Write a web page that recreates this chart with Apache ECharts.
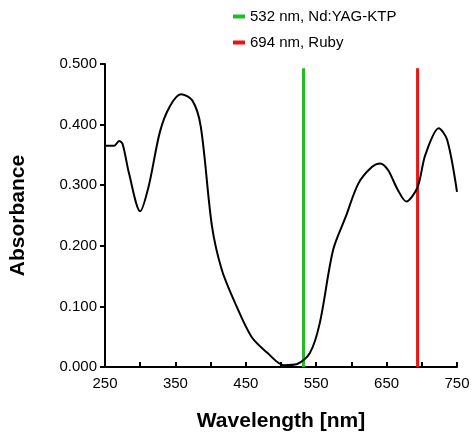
<!DOCTYPE html>
<html style="height: 100%">
<head>
    <meta charset="utf-8">
    <script src="https://cdn.jsdelivr.net/npm/echarts/dist/echarts.min.js"></script>
</head>
<body style="height: 100%; margin: 0; background: #fff">
    <div id="main" style="width: 474px; height: 441px"></div>
    <script type="text/javascript">
        var wavelength = [250, 263, 270, 275, 284, 300, 312, 328, 342, 358, 374, 386, 402, 416, 435, 458, 481, 504, 523, 541, 555, 574, 592, 610, 629, 641, 652, 666, 678, 694, 705, 724, 736, 750];
        var absorbance = [0.365, 0.365, 0.373, 0.368, 0.320, 0.257, 0.298, 0.388, 0.430, 0.450, 0.440, 0.397, 0.232, 0.160, 0.105, 0.050, 0.023, 0.003, 0.005, 0.023, 0.072, 0.193, 0.248, 0.303, 0.330, 0.336, 0.325, 0.292, 0.273, 0.297, 0.350, 0.394, 0.375, 0.289];
        var laserNames = ['532 nm, Nd:YAG-KTP', '694 nm, Ruby'];
        var laserLines = [532, 694];
        var laserColors = ['#22bb22', '#ee1111'];
        var laserTop = 0.493;

        var myChart = echarts.init(document.getElementById('main'));

        var series = [{
            type: 'line',
            data: wavelength.map(function (w, i) { return [w, absorbance[i]]; }),
            smooth: 0.3,
            symbol: 'none',
            lineStyle: { color: '#000', width: 2 },
            z: 3
        }];
        laserLines.forEach(function (w, i) {
            series.push({
                name: laserNames[i],
                type: 'line',
                data: [[w, 0], [w, laserTop]],
                symbol: 'none',
                lineStyle: { color: laserColors[i], width: 3 },
                itemStyle: { color: laserColors[i] },
                z: 2
            });
        });

        var option = {
            animation: false,
            textStyle: { fontFamily: 'Liberation Sans, Arial' },
            legend: {
                data: laserNames,
                orient: 'vertical',
                left: 228,
                top: 4,
                itemGap: 11,
                itemWidth: 12,
                itemHeight: 4,
                icon: 'rect',
                textStyle: { fontSize: 15, color: '#000' }
            },
            grid: { left: 97, right: 17, top: 64, bottom: 74 },
            xAxis: {
                type: 'value',
                min: 250, max: 750, interval: 50,
                name: 'Wavelength [nm]',
                nameLocation: 'middle',
                nameGap: 44,
                nameTextStyle: { fontSize: 21, fontWeight: 'bold', color: '#000' },
                axisLine: { lineStyle: { color: '#000', width: 2 } },
                axisTick: { inside: true, length: 5, lineStyle: { color: '#000', width: 2 } },
                axisLabel: {
                    fontSize: 15, color: '#000', margin: 9,
                    formatter: function (v) { return (v - 250) % 100 === 0 ? v : ''; }
                },
                splitLine: { show: false }
            },
            yAxis: {
                type: 'value',
                min: 0, max: 0.5, interval: 0.1,
                name: 'Absorbance',
                nameLocation: 'middle',
                nameGap: 76,
                nameTextStyle: { fontSize: 21, fontWeight: 'bold', color: '#000' },
                axisLine: { show: true, lineStyle: { color: '#000', width: 2 } },
                axisTick: { show: true, length: 5, lineStyle: { color: '#000', width: 2 } },
                axisLabel: { fontSize: 15, color: '#000', formatter: function (v) { return v.toFixed(3); } },
                splitLine: { show: false }
            },
            series: series
        };

        myChart.setOption(option);
    </script>
</body>
</html>
